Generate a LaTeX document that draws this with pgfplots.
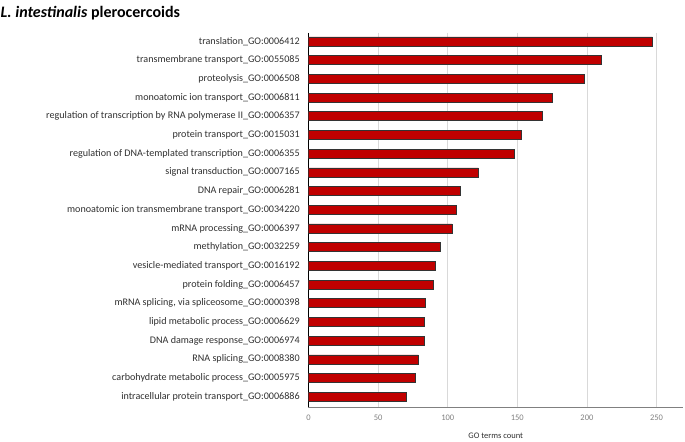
\documentclass[border=0pt]{standalone}
\usepackage{pgfplots}
\pgfplotsset{compat=1.18}
\usepackage{fontspec}
\setmainfont{Carlito}
\definecolor{barred}{HTML}{C00000}
\definecolor{gridgray}{HTML}{D9D9D9}
\definecolor{labelgray}{HTML}{303030}

\begin{document}
\begin{tikzpicture}
\begin{axis}[
  name=ax,
  at={(0,0)}, anchor=south west,
  scale only axis,
  width=374.5pt, height=374pt,
  xbar,
  bar width=9pt,
  y dir=reverse,
  xmin=0, xmax=269,
  ymin=-0.45, ymax=19.55,
  xtick={0,50,...,250},
  ytick={0,...,19},
  yticklabels={
    translation\_GO:0006412,
    transmembrane transport\_GO:0055085,
    proteolysis\_GO:0006508,
    monoatomic ion transport\_GO:0006811,
    regulation of transcription by RNA polymerase II\_GO:0006357,
    protein transport\_GO:0015031,
    regulation of DNA-templated transcription\_GO:0006355,
    signal transduction\_GO:0007165,
    DNA repair\_GO:0006281,
    monoatomic ion transmembrane transport\_GO:0034220,
    mRNA processing\_GO:0006397,
    methylation\_GO:0032259,
    vesicle-mediated transport\_GO:0016192,
    protein folding\_GO:0006457,
    {mRNA splicing, via spliceosome\_GO:0000398},
    lipid metabolic process\_GO:0006629,
    DNA damage response\_GO:0006974,
    RNA splicing\_GO:0008380,
    carbohydrate metabolic process\_GO:0005975,
    intracellular protein transport\_GO:0006886},
  axis x line*=bottom,
  axis y line*=left,
  x axis line style={draw=gray, line width=0.8pt},
  y axis line style={draw=black, line width=0.8pt},
  tick style={draw=none},
  xmajorgrids=true,
  grid style={gridgray, line width=0.8pt},
  yticklabel style={font=\fontsize{10.1}{12}\selectfont, text=labelgray, xshift=-1pt},
  xticklabel style={font=\fontsize{8.5}{10}\selectfont, text=gray, yshift=-4pt},
  /pgf/number format/assume math mode=true,
  xlabel={GO terms count},
  xlabel style={font=\fontsize{8.5}{10}\selectfont, text=labelgray, yshift=-6pt},
]
\addplot[fill=barred, draw=black!80, line width=0.6pt] coordinates {
  (247,0) (210,1) (198,2) (175,3) (168,4) (153,5) (148,6) (122,7) (109,8) (106,9)
  (103,10) (95,11) (91,12) (90,13) (84,14) (83,15) (83,16) (79,17) (77,18) (70,19)
};
\end{axis}
\path[use as bounding box] (-308.5pt,-34pt) rectangle (376.5pt,407pt);
\node[anchor=base west, inner sep=0pt, font=\fontsize{16}{18}\selectfont\bfseries]
  at (-308pt,389pt) {\textit{L. intestinalis} plerocercoids};
\end{tikzpicture}
\end{document}
